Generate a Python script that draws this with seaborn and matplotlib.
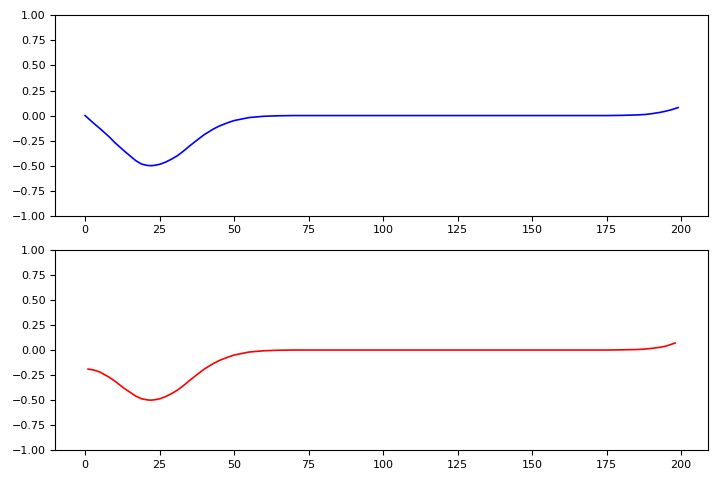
import matplotlib
matplotlib.use("Agg")
import matplotlib.pyplot as plt
import seaborn as sns

top_x = [0, 3, 5, 8, 10, 13, 15, 17, 19, 21, 22, 23, 25, 27, 29, 31, 33, 35, 38, 40, 43, 45, 48, 50, 55, 60, 65, 70, 100, 150, 175, 180, 185, 188, 190, 193, 195, 197, 199]
top_y = [0.0, -0.08, -0.13, -0.21, -0.27, -0.35, -0.40, -0.45, -0.485, -0.498, -0.50, -0.498, -0.487, -0.465, -0.435, -0.40, -0.355, -0.305, -0.235, -0.19, -0.135, -0.105, -0.07, -0.05, -0.02, -0.007, -0.002, 0.0, 0.0, 0.0, 0.0, 0.002, 0.006, 0.011, 0.018, 0.032, 0.045, 0.06, 0.08]
bot_x = [1, 3, 5, 8, 10, 13, 15, 17, 19, 21, 22, 23, 25, 27, 29, 31, 33, 35, 38, 40, 43, 45, 48, 50, 55, 60, 65, 70, 100, 150, 175, 180, 185, 188, 190, 193, 195, 198]
bot_y = [-0.19, -0.20, -0.22, -0.27, -0.31, -0.38, -0.42, -0.46, -0.487, -0.498, -0.50, -0.498, -0.487, -0.465, -0.435, -0.40, -0.355, -0.305, -0.235, -0.19, -0.135, -0.105, -0.07, -0.05, -0.02, -0.007, -0.002, 0.0, 0.0, 0.0, 0.0, 0.002, 0.005, 0.01, 0.016, 0.028, 0.04, 0.07]

plt.rcParams["font.size"] = 8
fig, axes = plt.subplots(2, 1, figsize=(7.2, 4.8), dpi=100)
fig.subplots_adjust(left=0.077, right=0.983, top=0.968, bottom=0.062, hspace=0.17)
sns.lineplot(x=top_x, y=top_y, ax=axes[0], color="blue", linewidth=1.2)
sns.lineplot(x=bot_x, y=bot_y, ax=axes[1], color="red", linewidth=1.2)
for ax in axes:
    ax.set_ylim(-1, 1)
    ax.set_xlim(-9.95, 208.95)
    ax.set_yticks([-1, -0.75, -0.5, -0.25, 0, 0.25, 0.5, 0.75, 1])
    ax.set_xticks([0, 25, 50, 75, 100, 125, 150, 175, 200])
fig.savefig("out.png")
